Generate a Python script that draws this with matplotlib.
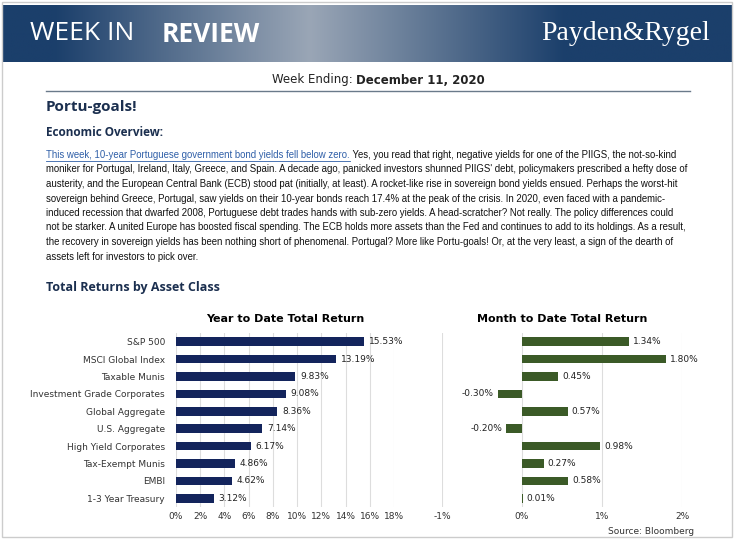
import matplotlib
matplotlib.use("Agg")
import matplotlib.pyplot as plt
from matplotlib.patches import Rectangle
import numpy as np

categories = ["S&P 500", "MSCI Global Index", "Taxable Munis", "Investment Grade Corporates",
              "Global Aggregate", "U.S. Aggregate", "High Yield Corporates", "Tax-Exempt Munis",
              "EMBI", "1-3 Year Treasury"]
ytd = [15.53, 13.19, 9.83, 9.08, 8.36, 7.14, 6.17, 4.86, 4.62, 3.12]
mtd = [1.34, 1.80, 0.45, -0.30, 0.57, -0.20, 0.98, 0.27, 0.58, 0.01]
ytd_ticks = [0, 2, 4, 6, 8, 10, 12, 14, 16, 18]
mtd_ticks = [-1, 0, 1, 2]

link_text = "This week, 10-year Portuguese government bond yields fell below zero."
paragraph = [
    " Yes, you read that right, negative yields for one of the PIIGS, the not-so-kind",
    "moniker for Portugal, Ireland, Italy, Greece, and Spain. A decade ago, panicked investors shunned PIIGS' debt, policymakers prescribed a hefty dose of",
    "austerity, and the European Central Bank (ECB) stood pat (initially, at least). A rocket-like rise in sovereign bond yields ensued. Perhaps the worst-hit",
    "sovereign behind Greece, Portugal, saw yields on their 10-year bonds reach 17.4% at the peak of the crisis. In 2020, even faced with a pandemic-",
    "induced recession that dwarfed 2008, Portuguese debt trades hands with sub-zero yields. A head-scratcher? Not really. The policy differences could",
    "not be starker. A united Europe has boosted fiscal spending. The ECB holds more assets than the Fed and continues to add to its holdings. As a result,",
    "the recovery in sovereign yields has been nothing short of phenomenal. Portugal? More like Portu-goals! Or, at the very least, a sign of the dearth of",
    "assets left for investors to pick over.",
]

W, H = 740, 539
fig = plt.figure(figsize=(W/100, H/100), dpi=100)
fig.patch.set_facecolor("white")

def fx(x): return x / W
def fy(y): return 1 - y / H

fig.add_artist(Rectangle((fx(2), fy(537)), fx(730), 535/H, transform=fig.transFigure,
                         fill=False, ec="#cccccc", lw=1))
hax = fig.add_axes([fx(3), fy(62), fx(730), 57/H])
xs = np.linspace(0, 1, 300)
grad = np.clip(np.abs(xs - 0.42) / 0.35, 0, 1)
c1 = np.array([0x1b, 0x3f, 0x6b]) / 255
c2 = np.array([0x9a, 0xa6, 0xb6]) / 255
img = (c2[None, :] * (1 - grad[:, None]) + c1[None, :] * grad[:, None])[None, :, :]
hax.imshow(img, aspect="auto", extent=[0, 1, 0, 1])
hax.set_axis_off()
fig.text(fx(30), fy(34), "WEEK IN ", color="white", fontsize=19, va="center", ha="left",
         family="Open Sans")
fig.text(fx(162), fy(34), "REVIEW", color="white", fontsize=19, va="center", ha="left",
         family="Open Sans", weight="bold")
fig.text(fx(710), fy(34), "Payden&Rygel", color="white", fontsize=20, va="center", ha="right",
         family="Liberation Serif")

fig.text(fx(356), fy(80), "Week Ending: ", fontsize=8.5, ha="right", va="center", color="#222")
fig.text(fx(356), fy(80), "December 11, 2020", fontsize=8.5, ha="left", va="center",
         color="#222", weight="bold")
fig.add_artist(plt.Line2D([fx(46), fx(690)], [fy(91), fy(91)], color="#6a7a8a", lw=1,
                          transform=fig.transFigure))
fig.text(fx(46), fy(107), "Portu-goals!", fontsize=11, color="#1b2f4f", weight="bold",
         va="center", family="Open Sans")
fig.text(fx(46), fy(133), "Economic Overview:", fontsize=8.5, color="#1b2f4f",
         va="center", family="Open Sans", weight="bold")

fs = 6.9
lt = fig.text(fx(46), fy(155), link_text, fontsize=fs, va="center", color="#2f5fa8",
              family="Liberation Sans")
fig.canvas.draw()
bb = lt.get_window_extent()
fig.add_artist(plt.Line2D([bb.x0 / W, bb.x1 / W], [fy(161), fy(161)], color="#2f5fa8", lw=0.6,
                          transform=fig.transFigure))
fig.text(bb.x1 / W, fy(155), paragraph[0], fontsize=fs, va="center", color="#111",
         family="Liberation Sans")
for i, line in enumerate(paragraph[1:], start=1):
    fig.text(fx(46), fy(155 + i * 14.5), line, fontsize=fs, va="center", color="#111",
             family="Liberation Sans")
fig.text(fx(46), fy(287), "Total Returns by Asset Class", fontsize=9, color="#1b2f4f",
         va="center", family="Open Sans", weight="bold")

y = np.arange(len(categories))
ax1 = fig.add_axes([fx(176), fy(507), fx(218), 174/H])
ax1.barh(y, ytd, height=0.5, color="#13245c")
ax1.set_xlim(0, 18)
ax1.set_ylim(len(categories) - 0.5, -0.5)
ax1.set_xticks(ytd_ticks)
ax1.set_xticklabels([f"{t}%" for t in ytd_ticks])
ax1.set_yticks(y)
ax1.set_yticklabels(categories)
for yi, v in zip(y, ytd):
    ax1.text(v + 0.4, yi, f"{v:.2f}%", va="center", fontsize=6.5, color="#222")
ax1.set_title("Year to Date Total Return", fontsize=8, weight="bold", pad=8)

ax2 = fig.add_axes([fx(442), fy(507), fx(240), 174/H])
ax2.barh(y, mtd, height=0.5, color="#3b5a27")
ax2.set_xlim(-1, 2)
ax2.set_ylim(len(categories) - 0.5, -0.5)
ax2.set_xticks(mtd_ticks)
ax2.set_xticklabels([f"{t}%" for t in mtd_ticks])
ax2.set_yticks([])
for yi, v in zip(y, mtd):
    if v >= 0:
        ax2.text(v + 0.05, yi, f"{v:.2f}%", va="center", ha="left", fontsize=6.5, color="#222")
    else:
        ax2.text(v - 0.05, yi, f"{v:.2f}%", va="center", ha="right", fontsize=6.5, color="#222")
ax2.set_title("Month to Date Total Return", fontsize=8, weight="bold", pad=8)

for ax in (ax1, ax2):
    for s in ax.spines.values():
        s.set_visible(False)
    ax.xaxis.grid(True, color="#dddddd", lw=0.8)
    ax.set_axisbelow(True)
    ax.tick_params(length=0, labelsize=6.5, colors="#333")
ax1.tick_params(axis="y", pad=8)

fig.text(fx(694), fy(532), "Source: Bloomberg", fontsize=6.5, ha="right", va="center", color="#333")

fig.savefig("out.png", dpi=100)
